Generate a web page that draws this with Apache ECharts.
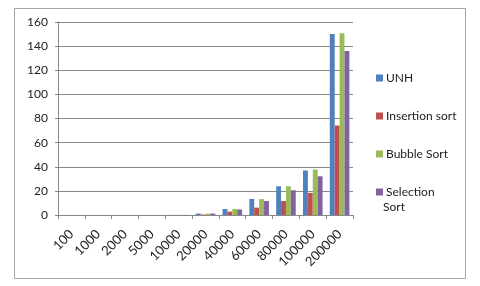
<!DOCTYPE html>
<html><head><meta charset="utf-8">
<script src="https://cdn.jsdelivr.net/npm/echarts@6/dist/echarts.min.js"></script>
<style>html,body{margin:0;padding:0;background:#fff}#c{width:480px;height:286px}</style>
</head><body><div id="c"></div>
<script>
var categories = ['100','1000','2000','5000','10000','20000','40000','60000','80000','100000','200000'];
var unh       = [0, 0, 0, 0, 0.1, 1.2, 5, 13.3, 23.8, 36.9, 150];
var insertion = [0, 0, 0, 0, 0.05, 0.4, 2.8, 6.1, 11.6, 18.3, 74.2];
var bubble    = [0, 0, 0, 0, 0.1, 1.1, 5, 13.2, 23.8, 37.7, 150.6];
var selection = [0, 0, 0, 0, 0.1, 1.2, 4.5, 11.6, 20.5, 32.1, 136];
var yTicks = [0, 20, 40, 60, 80, 100, 120, 140, 160];
var seriesNames = ['UNH', 'Insertion sort', 'Bubble Sort', 'Selection Sort'];
var colors = ['#4F81BD', '#C0504D', '#9BBB59', '#8064A2'];
var font = 'Lato, "Open Sans", sans-serif';

var chart = echarts.init(document.getElementById('c'), null, {renderer: 'canvas'});
var vals = [unh, insertion, bubble, selection];
chart.setOption({
  animation: false,
  color: colors,
  graphic: [
    {type: 'rect', shape: {x: 14.5, y: 8.5, width: 451, height: 270}, style: {fill: 'none', stroke: '#a6a6a6', lineWidth: 1}, z: -1},
    {type: 'text', left: 383, top: 201, style: {text: 'Sort', font: '12px ' + font, fill: '#222'}}
  ],
  grid: {left: 58, right: 127, top: 22, bottom: 71},
  legend: {
    orient: 'vertical', left: 371, top: 66, itemGap: 24, itemWidth: 7, itemHeight: 7,
    icon: 'rect', data: seriesNames,
    formatter: function (n) { return n === 'Selection Sort' ? 'Selection' : n; },
    textStyle: {fontFamily: font, fontSize: 12, color: '#222', lineHeight: 14, padding: [0, 0, 0, -2]}
  },
  xAxis: {
    type: 'category', data: categories,
    axisLine: {lineStyle: {color: '#888'}},
    axisTick: {show: true, length: 4, lineStyle: {color: '#888'}},
    axisLabel: {rotate: 45, interval: 0, margin: 17, fontFamily: font, fontSize: 13, color: '#222'}
  },
  yAxis: {
    type: 'value', min: 0, max: 160, interval: 20,
    axisLine: {show: true, lineStyle: {color: '#888'}},
    axisTick: {show: true, length: 3, lineStyle: {color: '#888'}},
    axisLabel: {margin: 10, fontFamily: font, fontSize: 12, color: '#222',
      formatter: function (v) { return yTicks.indexOf(v) >= 0 ? String(v) : ''; }},
    splitLine: {lineStyle: {color: '#888'}}
  },
  series: seriesNames.map(function (n, i) {
    return {name: n, type: 'bar', data: vals[i], barGap: '0%', barCategoryGap: '27%'};
  })
});
</script></body></html>
